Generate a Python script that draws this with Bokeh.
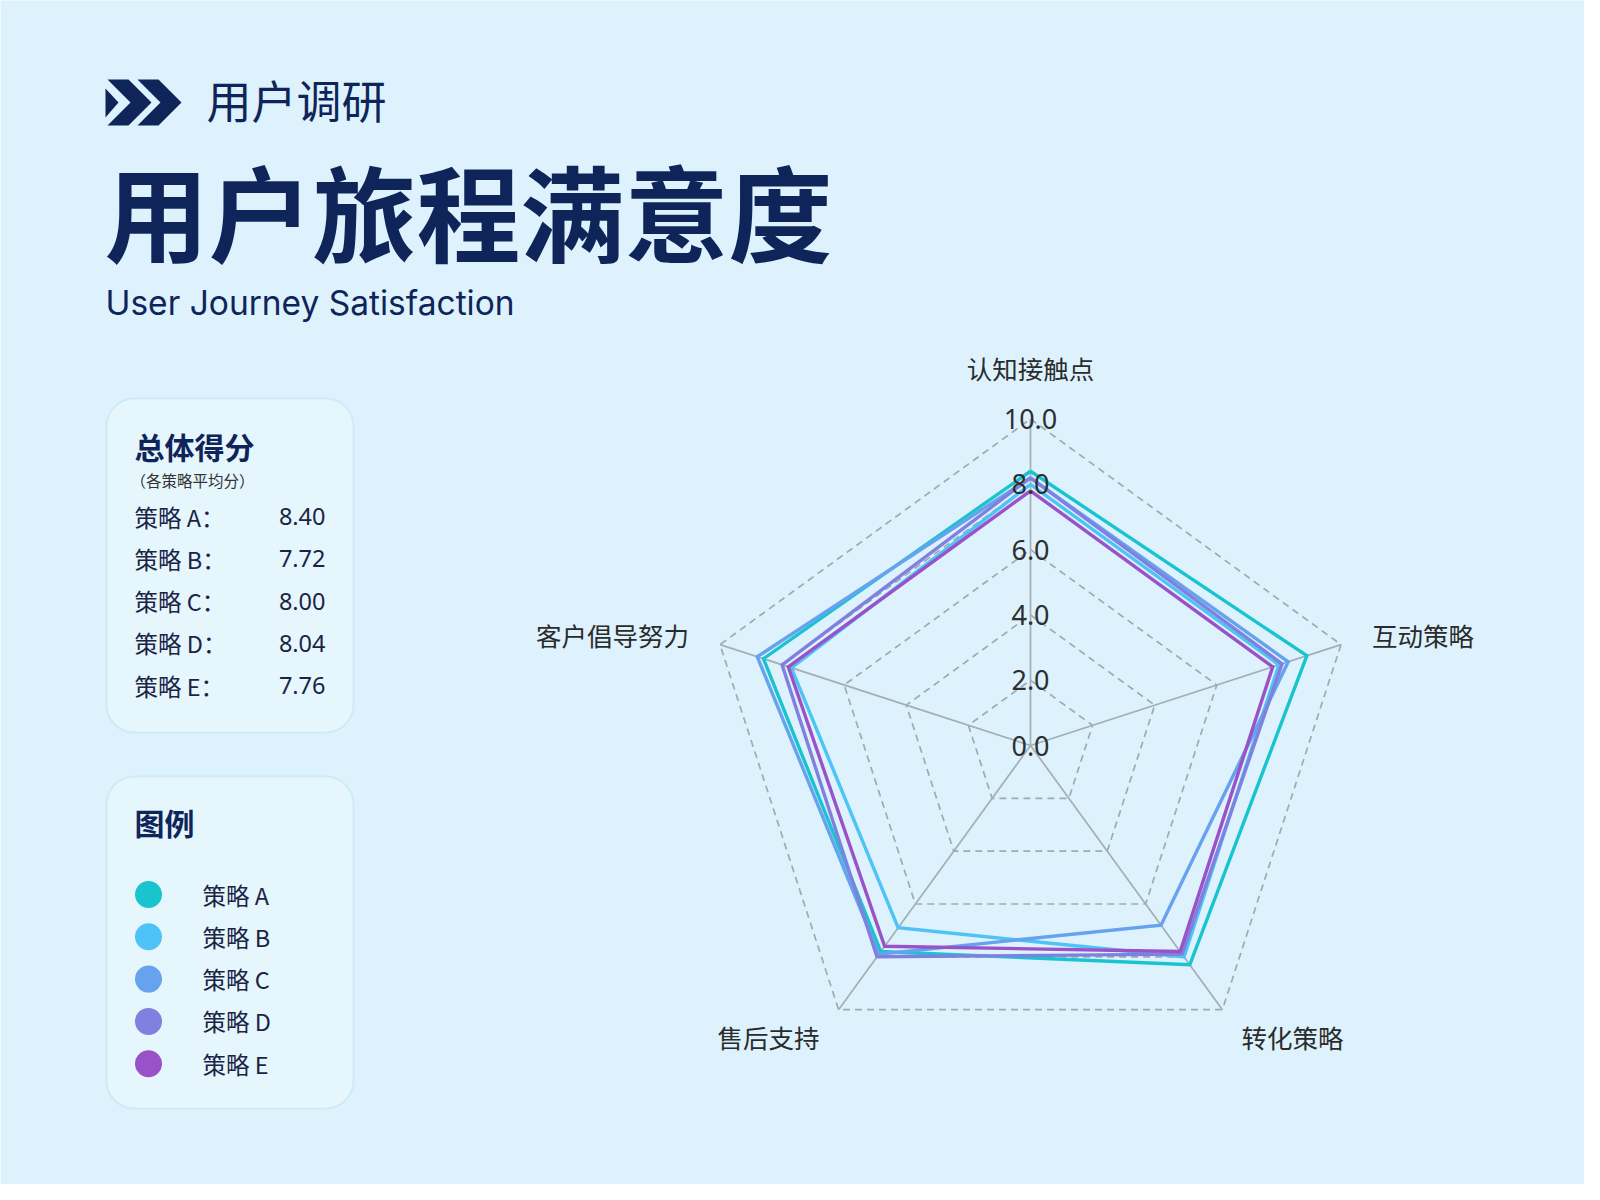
import numpy as np
from bokeh.plotting import figure
from bokeh.models import Range1d, BoxAnnotation
from bokeh.core.properties import value
from bokeh.embed import file_html
from bokeh.resources import INLINE

# data
axis_names = ["认知接触点", "互动策略", "转化策略", "售后支持", "客户倡导努力"]
strategies = ["策略 A", "策略 B", "策略 C", "策略 D", "策略 E"]
scores_a = [8.4, 8.9, 8.3, 7.8, 8.6]
scores_b = [8.0, 8.0, 8.0, 6.9, 7.7]
scores_c = [8.2, 8.3, 6.8, 7.9, 8.8]
scores_d = [8.2, 8.1, 7.9, 8.0, 8.0]
scores_e = [7.8, 7.8, 7.8, 7.6, 7.8]
ticks = [0, 2, 4, 6, 8, 10]
colors = ["#19C4CF", "#4EC3F5", "#66A2EE", "#8080E0", "#9A52C8"]

all_scores = [scores_a, scores_b, scores_c, scores_d, scores_e]

CJK = value("Noto Sans CJK SC")
NAVY = "#0F2559"
BG = "#DDF2FD"

# page frame in reference pixels (y down), radar in score units
W, H = 1584, 1184
p = figure(width=W, height=H, output_backend="svg", toolbar_location=None,
           x_range=Range1d(0, W), y_range=Range1d(H, 0),
           x_axis_location=None, y_axis_location=None, min_border=0)
p.outline_line_color = None
p.background_fill_color = BG
p.border_fill_color = BG
p.xgrid.visible = False
p.ygrid.visible = False

cx, cy, s = 1030, 745, 32.65
p.extra_x_ranges = {"radar": Range1d(-cx / s, (W - cx) / s)}
p.extra_y_ranges = {"radar": Range1d((cy - H) / s, cy / s)}
R = dict(x_range_name="radar", y_range_name="radar")

# header
icon_xs = [[105, 118, 105], [107, 128, 151, 128, 107, 130], [137, 158, 181, 158, 137, 160]]
icon_ys = [[88, 102, 117], [79, 79, 102, 125, 125, 102], [79, 79, 102, 125, 125, 102]]
p.patches(icon_xs, icon_ys, fill_color=NAVY, line_color=None)
p.text(x=[206], y=[99], text=["用户调研"], text_font=CJK, text_font_size="45px",
       text_color=NAVY, text_baseline="middle")
p.text(x=[104], y=[209], text=["用户旅程满意度"], text_font=CJK, text_font_size="104px",
       text_font_style="bold", text_color=NAVY, text_baseline="middle")
p.text(x=[105], y=[302], text=["User Journey Satisfaction"], text_font=value("Inter"),
       text_font_size="33.5px", text_color=NAVY, text_baseline="middle")

# boxes
for top, bottom in [(398, 732), (776, 1108)]:
    p.add_layout(BoxAnnotation(left=106, right=353, top=top, bottom=bottom, level="underlay",
                               border_radius=28, fill_color="#E6F6FD", fill_alpha=1,
                               line_color="#A8D6E0", line_width=2))

# summary
p.text(x=[134], y=[445], text=["总体得分"], text_font=CJK, text_font_size="30px",
       text_font_style="bold", text_color=NAVY, text_baseline="middle")
p.text(x=[130], y=[479], text=["（各策略平均分）"], text_font=CJK, text_font_size="15.5px",
       text_color="#333333", text_baseline="middle")
row_y = [516 + i * 42.3 for i in range(len(strategies))]
p.text(x=[134] * 5, y=row_y, text=[f"{n}：" for n in strategies], text_font=CJK,
       text_font_size="23.5px", text_color="#1B2445", text_baseline="middle")
p.text(x=[325] * 5, y=row_y, text=[f"{np.mean(v):.2f}" for v in all_scores], text_font=value("Noto Sans"),
       text_font_size="23.5px", text_color="#1B2445", text_baseline="middle", text_align="right")

# legend
p.text(x=[134], y=[821], text=["图例"], text_font=CJK, text_font_size="30px",
       text_font_style="bold", text_color=NAVY, text_baseline="middle")
leg_y = [894 + i * 42.3 for i in range(len(strategies))]
p.scatter(x=[148] * 5, y=leg_y, size=27, fill_color=colors, line_color=None)
p.text(x=[202] * 5, y=leg_y, text=strategies, text_font=CJK, text_font_size="23.5px",
       text_color="#1B2445", text_baseline="middle")

# radar
ang = np.deg2rad(90 - 72 * np.arange(len(axis_names)))
ca, sa = np.cos(ang), np.sin(ang)

ring_xs = [list(np.append(t * ca, t * ca[0])) for t in ticks[1:]]
ring_ys = [list(np.append(t * sa, t * sa[0])) for t in ticks[1:]]
p.multi_line(ring_xs, ring_ys, line_color="#9FAAB2", line_width=1.7, line_dash="7 5", **R)
top = ticks[-1]
p.multi_line([[0, top * c] for c in ca], [[0, top * v] for v in sa],
             line_color="#A3AEB6", line_width=1.7, **R)

for sc, col in zip(all_scores, colors):
    v = np.array(sc)
    p.line(np.append(v * ca, v[0] * ca[0]), np.append(v * sa, v[0] * sa[0]),
           line_color=col, line_width=3.4, line_join="miter", **R)

p.text(x=[0] * len(ticks), y=ticks, text=[f"{t:.1f}" for t in ticks], text_font=value("Noto Sans"),
       text_font_size="27px", text_color="#2E2E2E", text_align="center", text_baseline="middle", **R)

lab_r = top + 1
for name, c, sn in zip(axis_names, ca, sa):
    align = "left" if c > 0.1 else ("right" if c < -0.1 else "center")
    base = "bottom" if sn > 0.9 else "middle"
    p.text(x=[lab_r * c], y=[lab_r * sn], text=[name], text_font=CJK, text_font_size="25.5px",
           text_color="#2B2B2B", text_align=align, text_baseline=base, **R)

open("out.html", "w").write(file_html(p, INLINE))
